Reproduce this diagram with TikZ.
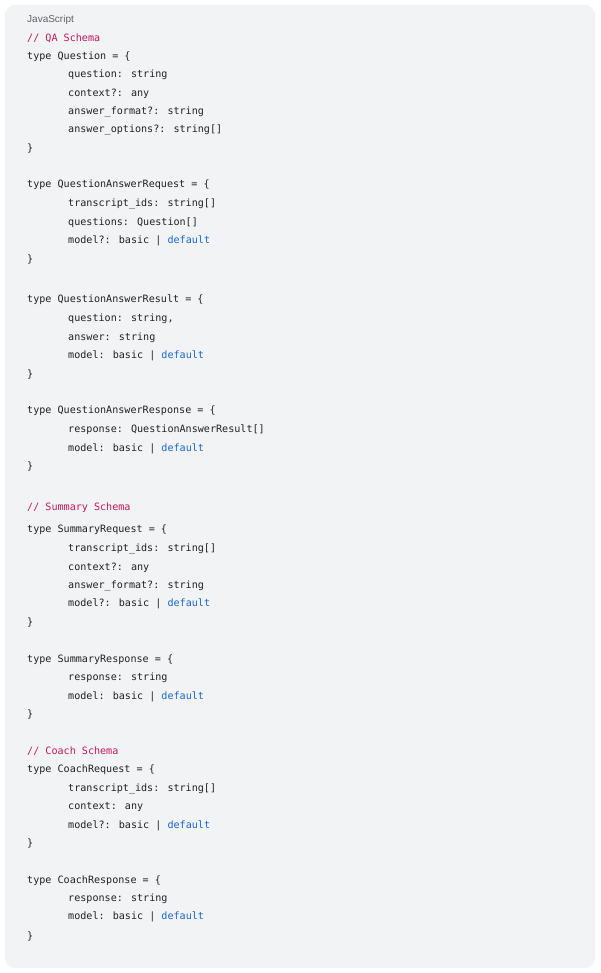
\documentclass[tikz,border=0pt]{standalone}
\usepackage{fontspec}
\setmainfont{Liberation Sans}
\newfontfamily\codefont{DejaVu Sans Mono}[Scale=1]
\definecolor{bgc}{HTML}{F1F3F4}
\definecolor{cmt}{HTML}{C2185B}
\definecolor{kwblue}{HTML}{1A65D0}
\definecolor{txt}{HTML}{202124}
\definecolor{lbl}{HTML}{5F6368}
\newcommand\dflt{\textcolor{kwblue}{default}}
\tikzset{
 code/.style={anchor=west,inner sep=0pt,text=txt,font=\codefont\fontsize{10.1pt}{12pt}\selectfont},
 cmtline/.style={code,text=cmt},
}
\begin{document}
\begin{tikzpicture}[x=1pt,y=-1pt]
\useasboundingbox (0,0) rectangle (600,973);
\fill[bgc,rounded corners=10pt] (5,5) rectangle (595,968);
\node[anchor=west,inner sep=0pt,text=lbl,font=\fontsize{10pt}{12pt}\selectfont] (lang) at (27,20) {JavaScript};
\def\a{27}\def\b{68}
\node[cmtline] (c1) at (\a,38) {// QA Schema};
\node[code] (t1) at (\a,57) {type Question = \{};
\node[code] (t1a) at (\b,75) {question: string};
\node[code] (t1b) at (\b,93.5) {context?: any};
\node[code] (t1c) at (\b,111.5) {answer\_format?: string};
\node[code] (t1d) at (\b,130) {answer\_options?: string[]};
\node[code] (t1e) at (\a,148) {\}};
\node[code] (t2) at (\a,185) {type QuestionAnswerRequest = \{};
\node[code] (t2a) at (\b,204) {transcript\_ids: string[]};
\node[code] (t2b) at (\b,222.5) {questions: Question[]};
\node[code] (t2c) at (\b,241) {model?: basic | \dflt};
\node[code] (t2d) at (\a,259) {\}};
\node[code] (t3) at (\a,300) {type QuestionAnswerResult = \{};
\node[code] (t3a) at (\b,319) {question: string,};
\node[code] (t3b) at (\b,337.5) {answer: string};
\node[code] (t3c) at (\b,356) {model: basic | \dflt};
\node[code] (t3d) at (\a,374) {\}};
\node[code] (t4) at (\a,411) {type QuestionAnswerResponse = \{};
\node[code] (t4a) at (\b,430) {response: QuestionAnswerResult[]};
\node[code] (t4b) at (\b,448.5) {model: basic | \dflt};
\node[code] (t4c) at (\a,466) {\}};
\node[cmtline] (c2) at (\a,508) {// Summary Schema};
\node[code] (t5) at (\a,530) {type SummaryRequest = \{};
\node[code] (t5a) at (\b,549) {transcript\_ids: string[]};
\node[code] (t5b) at (\b,567.5) {context?: any};
\node[code] (t5c) at (\b,586) {answer\_format?: string};
\node[code] (t5d) at (\b,604) {model?: basic | \dflt};
\node[code] (t5e) at (\a,622) {\}};
\node[code] (t6) at (\a,660) {type SummaryResponse = \{};
\node[code] (t6a) at (\b,678) {response: string};
\node[code] (t6b) at (\b,696.5) {model: basic | \dflt};
\node[code] (t6c) at (\a,714) {\}};
\node[cmtline] (c3) at (\a,751) {// Coach Schema};
\node[code] (t7) at (\a,770) {type CoachRequest = \{};
\node[code] (t7a) at (\b,788.5) {transcript\_ids: string[]};
\node[code] (t7b) at (\b,807) {context: any};
\node[code] (t7c) at (\b,825.5) {model?: basic | \dflt};
\node[code] (t7d) at (\a,843.5) {\}};
\node[code] (t8) at (\a,880.5) {type CoachResponse = \{};
\node[code] (t8a) at (\b,899) {response: string};
\node[code] (t8b) at (\b,917) {model: basic | \dflt};
\node[code] (t8c) at (\a,936) {\}};
\end{tikzpicture}
\end{document}
